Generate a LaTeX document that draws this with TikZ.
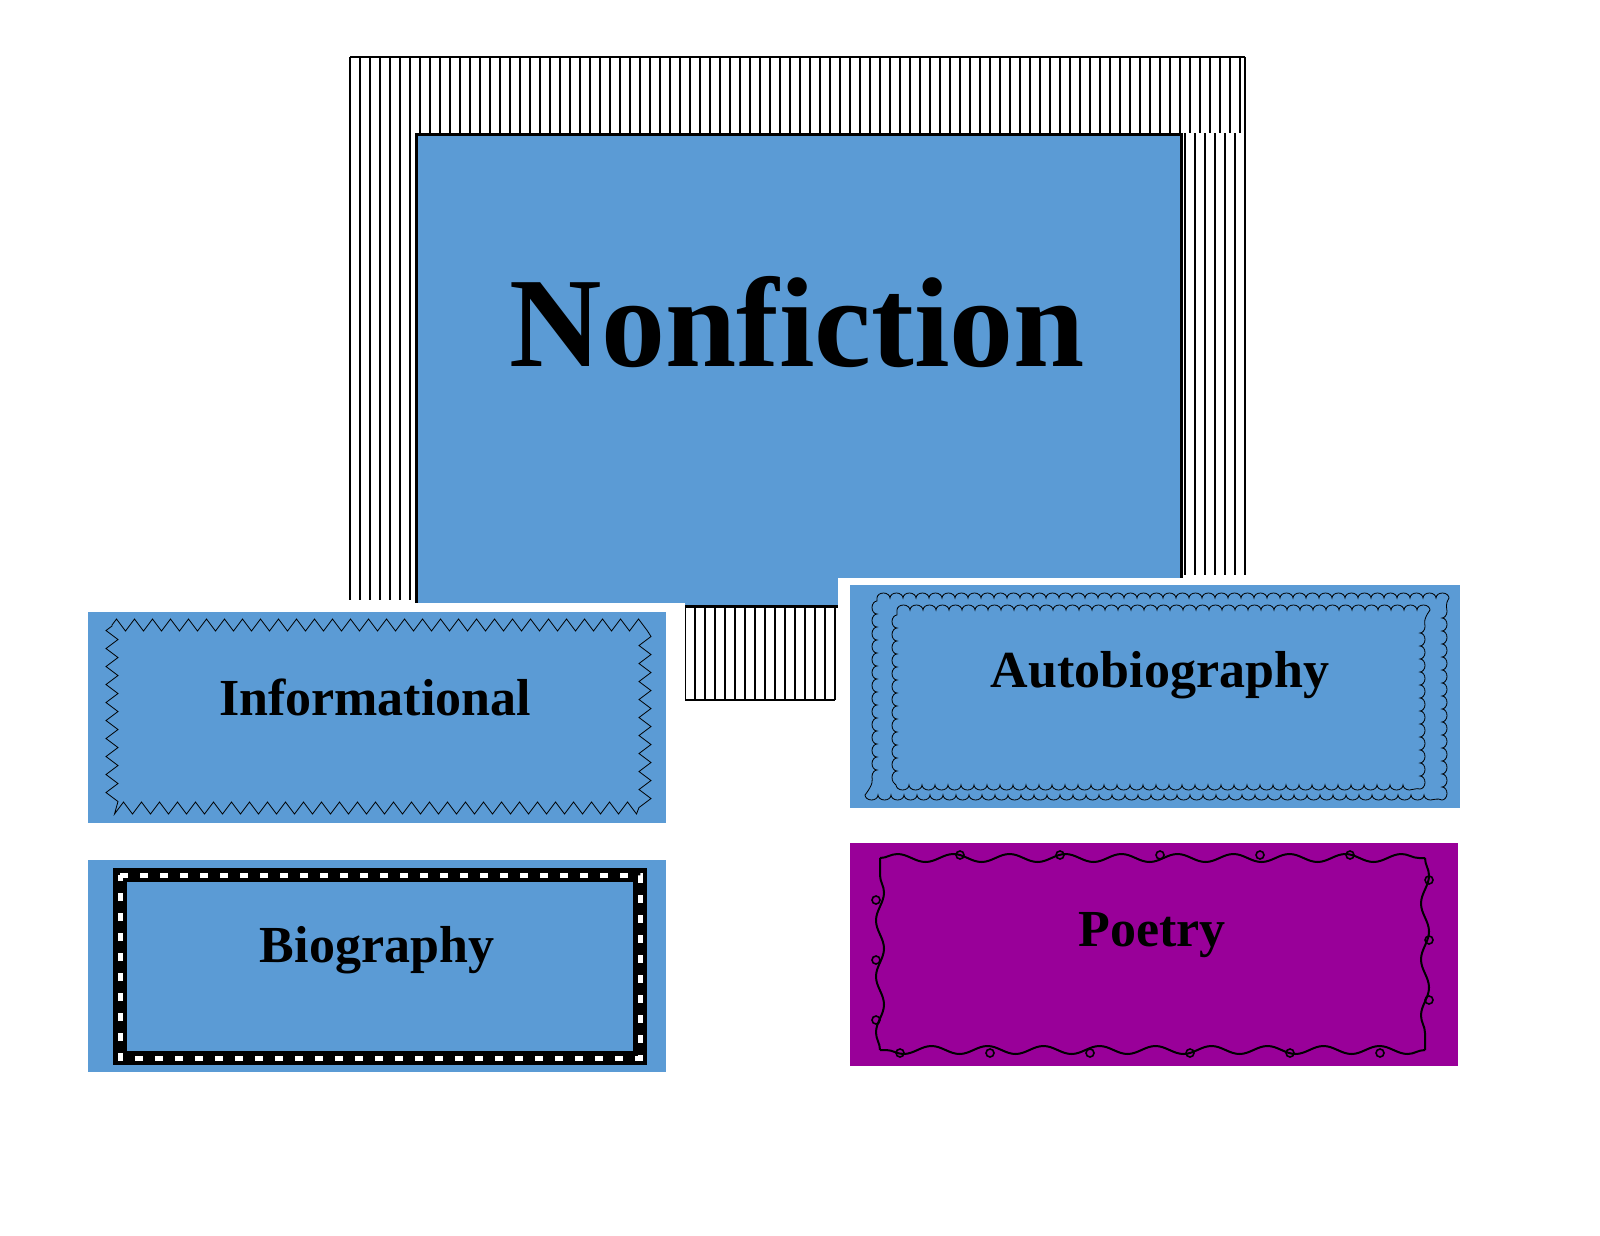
\documentclass[tikz,border=0pt]{standalone}
\usepackage{fontspec}
\setmainfont{Liberation Serif}
\usetikzlibrary{decorations.pathmorphing,decorations.pathreplacing}
\definecolor{bl}{HTML}{5B9BD5}
\definecolor{pu}{HTML}{990099}
\tikzset{lbl/.style={font=\bfseries\fontsize{26}{30}\selectfont},
 wav/.style={line width=1pt,decorate,decoration={snake,segment length=28pt,amplitude=2pt}},
 loopc/.style={line width=0.8pt}}
\begin{document}
\begin{tikzpicture}[x=0.5pt,y=-0.5pt]
\useasboundingbox (0,0) rectangle (1600,1236);
% striped frame
\foreach \x in {350,360,...,1240} \draw[line width=0.6pt] (\x,57) -- (\x,133);
\foreach \x in {350,360,...,410} \draw[line width=0.6pt] (\x,133) -- (\x,600);
\foreach \x in {1185,1195,...,1245} \draw[line width=0.6pt] (\x,133) -- (\x,575);
\foreach \x in {685,695,...,835} \draw[line width=0.6pt] (\x,605) -- (\x,700);
\draw[line width=1pt] (350,57) -- (1245,57);
\draw[line width=1pt] (1245,57) -- (1245,575);
\draw[line width=1pt] (685,700) -- (835,700);
\node[draw,line width=1.5pt,fill=bl,minimum width=765*0.5pt,minimum height=472*0.5pt,anchor=north west,inner sep=0] (main) at (415,133) {};
\node[font=\bfseries\fontsize{64}{70}\selectfont] (title) at (797,322) {Nonfiction};
% Informational
\node[fill=white,minimum width=605*0.5pt,minimum height=230*0.5pt,anchor=north west,inner sep=0] (iw) at (80,603) {};
\node[fill=bl,minimum width=578*0.5pt,minimum height=211*0.5pt,anchor=north west,inner sep=0] (info) at (88,612) {};
\draw[decorate,decoration={zigzag,segment length=9pt,amplitude=3pt}] (112,625) -- (645,625) -- (645,808) -- (112,808) -- cycle;
\node[lbl] (infot) at (375,697) {Informational};
% Biography
\node[fill=bl,minimum width=578*0.5pt,minimum height=212*0.5pt,anchor=north west,inner sep=0] (bio) at (88,860) {};
\draw[line width=7pt] (120,875) -- (640,875) -- (640,1058) -- (120,1058) -- cycle;
\draw[white,line width=2.5pt,dash pattern=on 4pt off 6pt] (120,875) -- (640,875) -- (640,1058) -- (120,1058) -- cycle;
\node[lbl] (biot) at (377,950) {Biography};
% Autobiography
\node[fill=white,minimum width=630*0.5pt,minimum height=233*0.5pt,anchor=north west,inner sep=0] (aw) at (838,578) {};
\node[fill=bl,minimum width=610*0.5pt,minimum height=223*0.5pt,anchor=north west,inner sep=0] (auto) at (850,585) {};
\draw[decorate,decoration={bumps,segment length=13pt,amplitude=2.5pt}] (877,598) -- (1442,598) -- (1442,795) -- (877,795) -- cycle;
\draw[decorate,decoration={bumps,segment length=13pt,amplitude=2.5pt}] (897,610) -- (1420,610) -- (1420,785) -- (897,785) -- cycle;
\node[lbl] (autot) at (1160,675) {Autobiography};
% Poetry
\node[fill=pu,minimum width=608*0.5pt,minimum height=223*0.5pt,anchor=north west,inner sep=0] (poe) at (850,843) {};
\draw[wav] (880,858) -- (1425,858);
\draw[wav] (1425,858) -- (1425,1050);
\draw[wav] (1425,1050) -- (880,1050);
\draw[wav] (880,1050) -- (880,858);
\foreach \x in {960,1060,1160,1260,1350} \draw[loopc] (\x,855) circle (4);
\foreach \x in {900,990,1090,1190,1290,1380} \draw[loopc] (\x,1053) circle (4);
\foreach \y in {900,960,1020} \draw[loopc] (876,\y) circle (4);
\foreach \y in {880,940,1000} \draw[loopc] (1429,\y) circle (4);
\node[lbl] (poet) at (1152,935) {Poetry};
\end{tikzpicture}
\end{document}
